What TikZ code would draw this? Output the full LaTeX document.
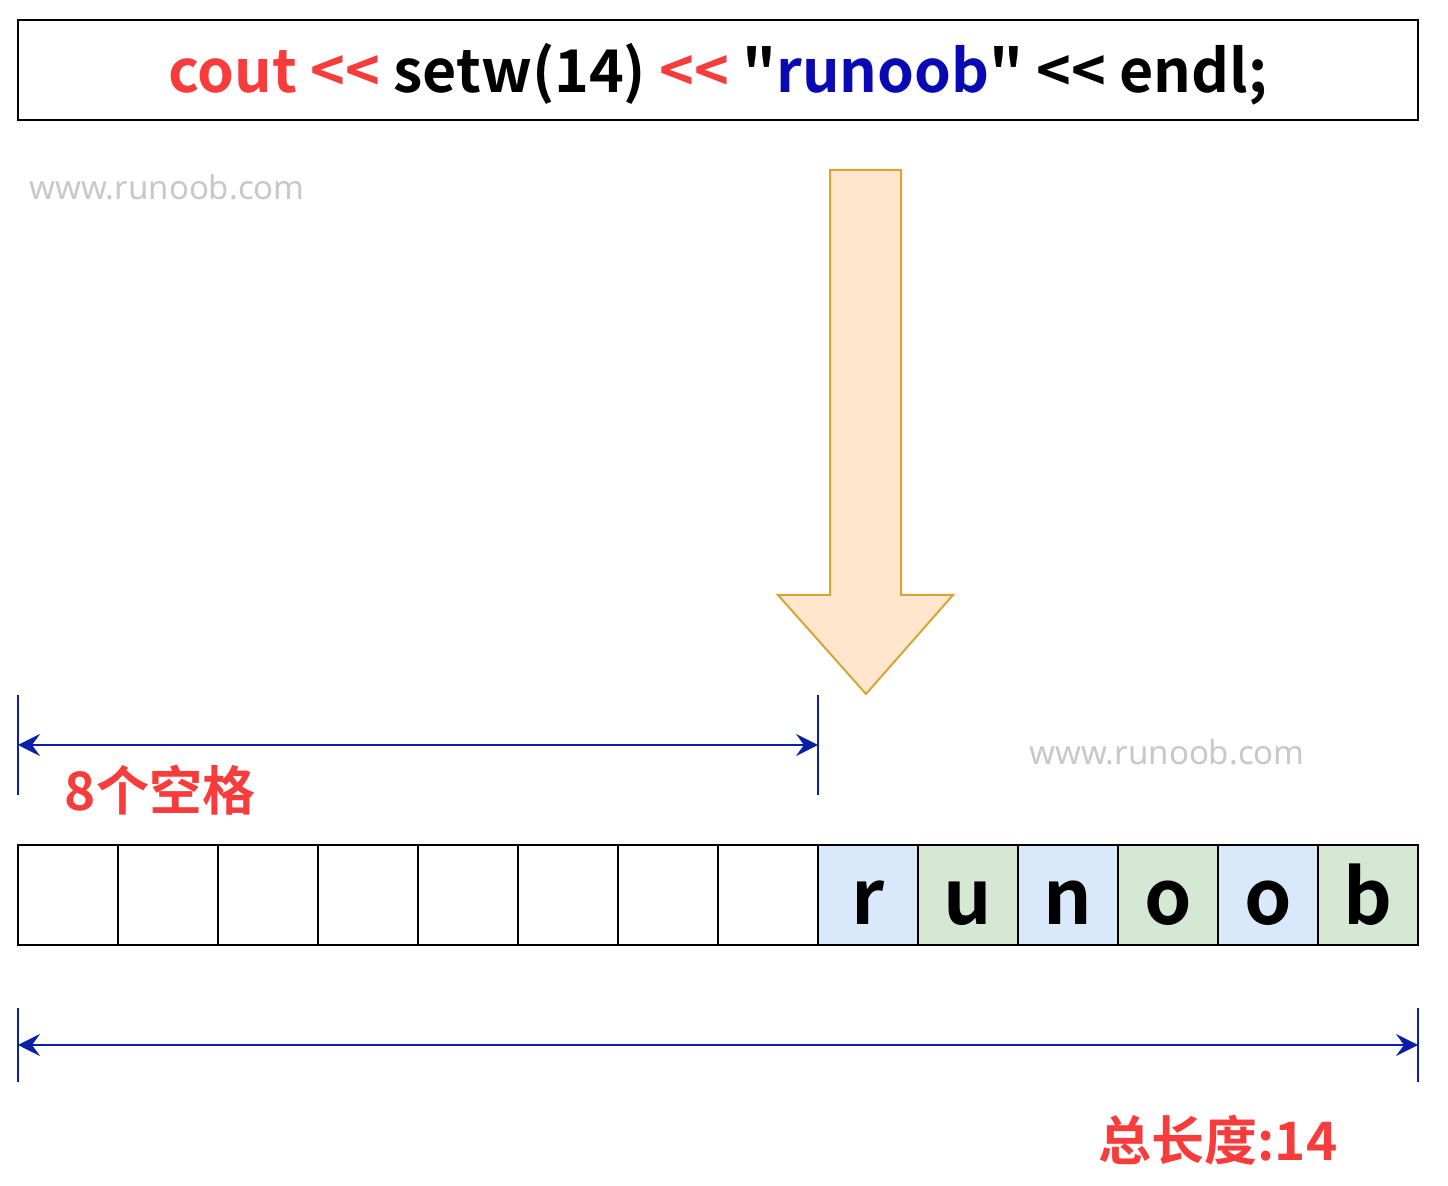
\documentclass[tikz,border=0pt]{standalone}
\usepackage{fontspec}
\setmainfont{Noto Sans CJK SC}[BoldFont={Noto Sans CJK SC Bold}, Ligatures=TeXOff]
\newfontfamily\markfont{Noto Sans}
\usepackage{xcolor}
\usetikzlibrary{positioning,calc,arrows.meta}
\definecolor{codered}{HTML}{F83B3B}
\definecolor{codeblue}{HTML}{0A0AB4}
\definecolor{dimblue}{HTML}{0A1FA8}
\definecolor{cellblue}{HTML}{DAE8FC}
\definecolor{cellgreen}{HTML}{D5E8D4}
\definecolor{arrowfill}{HTML}{FFE6CC}
\definecolor{arrowline}{HTML}{D6A536}
\definecolor{markgray}{HTML}{C8C8C8}

\begin{document}
\begin{tikzpicture}[x=0.5pt,y=-0.5pt,
    cellbox/.style={draw, line width=1pt, minimum size=50pt, inner sep=0pt,
      text height=30pt, text depth=0pt, font=\bfseries\fontsize{38}{40}\selectfont},
    dimline/.style={dimblue, line width=1pt},
    dimarrow/.style={dimblue, line width=1pt,
      {Stealth[length=11pt,width=11pt,inset=4pt]}-{Stealth[length=11pt,width=11pt,inset=4pt]}},
    redlabel/.style={codered, font=\bfseries\fontsize{26.5}{28}\selectfont},
    watermark/.style={markgray, font=\markfont\fontsize{16.5}{20}\selectfont}]
    \useasboundingbox (0,0) rectangle (1448,1186);

    % Code line
    \node[draw, line width=1pt, minimum width=700pt, minimum height=50pt, inner sep=0pt,
      text height=23pt, text depth=0pt, font=\bfseries\fontsize{29.5}{32}\selectfont] (code) at (718,70)
      {\textcolor{codered}{cout <<} setw(14) \textcolor{codered}{<<} "\textcolor{codeblue}{runoob}" << endl;};

    % Watermarks
    \node[watermark] (mark1) at (167,187) {www.runoob.com};
    \node[watermark] (mark2) at (1167,752) {www.runoob.com};

    % Big arrow
    \draw[fill=arrowfill, draw=arrowline, line width=1pt, line join=miter]
      (830,170) -- (901,170) -- (901,595) -- (953,595) -- (866,694) -- (778,595) -- (830,595) -- cycle;

    % Cells
    \foreach \i in {0,...,7}
      \node[cellbox] (c\i) at ({68+100*\i},895) {};
    \foreach \i/\ch/\col in {8/r/cellblue, 9/u/cellgreen, 10/n/cellblue, 11/o/cellgreen, 12/o/cellblue, 13/b/cellgreen}
      \node[cellbox, fill=\col] (c\i) at ({68+100*\i},895) {\ch};

    % Spaces
    \coordinate (s1t) at (18,695);
    \coordinate (s1b) at (18,795);
    \coordinate (e1t) at (818,695);
    \coordinate (e1b) at (818,795);
    \draw[dimline] (s1t) -- (s1b);
    \draw[dimline] (e1t) -- (e1b);
    \draw[dimarrow] ($(s1t)!0.5!(s1b)$) -- ($(e1t)!0.5!(e1b)$);
    \node[redlabel] (spaces) at (160,790) {8个空格};

    % Total length
    \coordinate (s2t) at (18,1008);
    \coordinate (s2b) at (18,1082);
    \coordinate (e2t) at (1418,1008);
    \coordinate (e2b) at (1418,1082);
    \draw[dimline] (s2t) -- (s2b);
    \draw[dimline] (e2t) -- (e2b);
    \draw[dimarrow] ($(s2t)!0.5!(s2b)$) -- ($(e2t)!0.5!(e2b)$);
    \node[redlabel] (total) at (1218,1140) {总长度:14};
\end{tikzpicture}
\end{document}
